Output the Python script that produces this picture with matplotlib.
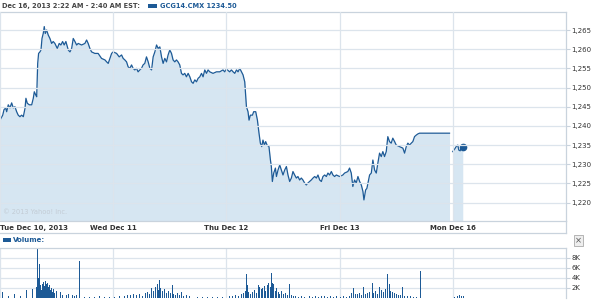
import matplotlib
matplotlib.use("Agg")
import matplotlib.pyplot as plt
from matplotlib.patches import Rectangle
from matplotlib.lines import Line2D
from matplotlib.ticker import FuncFormatter

# time axis: trading sessions since Tue Dec 10 open (1.0 = one session)
day_labels = ["Tue Dec 10, 2013", "Wed Dec 11", "Thu Dec 12", "Fri Dec 13", "Mon Dec 16"]

# Tue -> Fri session prices
t_main = [0.000, 0.009, 0.024, 0.035, 0.050, 0.059, 0.073, 0.088, 0.103, 0.117,
          0.132, 0.147, 0.161, 0.176, 0.191, 0.206, 0.221, 0.229, 0.241, 0.259,
          0.280, 0.294, 0.303, 0.315, 0.324, 0.333, 0.341, 0.353, 0.362, 0.371,
          0.382, 0.391, 0.400, 0.412, 0.426, 0.441, 0.456, 0.470, 0.485, 0.506,
          0.523, 0.538, 0.553, 0.567, 0.582, 0.603, 0.618, 0.633, 0.647, 0.662,
          0.677, 0.691, 0.721, 0.750, 0.765, 0.779, 0.794, 0.809, 0.838, 0.867,
          0.897, 0.927, 0.942, 0.956, 0.971, 0.986, 1.000, 1.030, 1.053, 1.074,
          1.088, 1.103, 1.118, 1.132, 1.147, 1.162, 1.176, 1.191, 1.206, 1.220,
          1.235, 1.250, 1.264, 1.279, 1.294, 1.309, 1.324, 1.339, 1.353, 1.368,
          1.383, 1.397, 1.412, 1.427, 1.441, 1.456, 1.471, 1.485, 1.500, 1.515,
          1.529, 1.544, 1.559, 1.573, 1.588, 1.603, 1.617, 1.632, 1.647, 1.662,
          1.677, 1.692, 1.706, 1.721, 1.736, 1.750, 1.765, 1.780, 1.794, 1.809,
          1.824, 1.838, 1.853, 1.882, 1.912, 1.941, 1.970, 1.985, 2.000, 2.029,
          2.044, 2.059, 2.074, 2.089, 2.103, 2.118, 2.133, 2.147, 2.162, 2.177,
          2.191, 2.200, 2.212, 2.230, 2.241, 2.259, 2.274, 2.288, 2.300, 2.312,
          2.323, 2.336, 2.347, 2.359, 2.376, 2.389, 2.397, 2.406, 2.418, 2.433,
          2.442, 2.456, 2.471, 2.486, 2.500, 2.515, 2.530, 2.544, 2.559, 2.574,
          2.588, 2.603, 2.618, 2.632, 2.647, 2.662, 2.676, 2.691, 2.706, 2.720,
          2.735, 2.750, 2.765, 2.780, 2.795, 2.809, 2.824, 2.839, 2.853, 2.868,
          2.883, 2.897, 2.912, 2.927, 2.941, 2.956, 2.971, 3.000, 3.029, 3.044,
          3.073, 3.088, 3.103, 3.117, 3.132, 3.147, 3.162, 3.177, 3.192, 3.206,
          3.215, 3.230, 3.241, 3.253, 3.265, 3.280, 3.294, 3.309, 3.324, 3.338,
          3.353, 3.368, 3.382, 3.397, 3.412, 3.426, 3.441, 3.456, 3.470, 3.486,
          3.500, 3.530, 3.559, 3.574, 3.589, 3.603, 3.618, 3.633, 3.647, 3.662,
          3.677, 3.691, 3.706, 3.971]
p_main = [1241.5, 1242.0, 1242.8, 1244.2, 1244.7, 1243.7, 1245.5, 1244.7, 1246.0, 1244.7,
          1245.0, 1243.7, 1242.8, 1242.4, 1242.8, 1242.4, 1244.6, 1247.2, 1245.9, 1245.5,
          1245.5, 1247.2, 1248.9, 1248.1, 1247.6, 1256.3, 1258.9, 1259.3, 1259.8, 1262.8,
          1264.1, 1265.9, 1264.1, 1265.0, 1263.7, 1262.8, 1261.5, 1262.0, 1261.5, 1260.2,
          1261.5, 1261.1, 1262.0, 1261.1, 1262.0, 1259.8, 1259.3, 1260.2, 1262.8, 1262.0,
          1261.1, 1261.5, 1261.1, 1261.5, 1262.4, 1261.5, 1260.2, 1259.3, 1258.9, 1258.9,
          1257.6, 1257.2, 1256.7, 1256.3, 1257.6, 1258.9, 1259.3, 1258.9, 1258.0, 1258.5,
          1257.6, 1257.2, 1256.7, 1255.4, 1255.0, 1255.9, 1255.0, 1254.6, 1255.0, 1254.1,
          1254.6, 1255.0, 1255.9, 1256.3, 1258.0, 1256.7, 1255.0, 1254.6, 1258.0, 1259.3,
          1261.1, 1260.2, 1260.6, 1258.0, 1256.3, 1257.6, 1256.7, 1258.5, 1259.8, 1258.9,
          1257.2, 1256.7, 1257.2, 1256.7, 1255.9, 1253.7, 1253.3, 1253.7, 1252.8, 1253.7,
          1252.8, 1251.5, 1251.1, 1252.0, 1251.5, 1252.4, 1252.8, 1253.7, 1252.8, 1254.6,
          1253.7, 1254.6, 1254.1, 1253.7, 1254.1, 1254.1, 1254.6, 1254.1, 1254.8, 1254.1,
          1254.6, 1254.1, 1253.7, 1254.6, 1254.1, 1255.0, 1254.1, 1253.3, 1251.5, 1245.0,
          1243.7, 1241.5, 1242.8, 1242.8, 1243.7, 1243.7, 1241.5, 1238.1, 1235.5, 1234.6,
          1236.3, 1235.0, 1235.9, 1235.0, 1234.6, 1231.1, 1229.4, 1225.5, 1227.7, 1229.0,
          1226.8, 1228.5, 1229.8, 1228.5, 1227.2, 1228.5, 1229.4, 1227.2, 1225.5, 1226.4,
          1228.1, 1227.2, 1226.4, 1226.8, 1225.9, 1226.4, 1225.9, 1225.1, 1224.6, 1225.1,
          1225.5, 1225.9, 1226.4, 1226.8, 1226.4, 1227.2, 1225.9, 1225.5, 1226.8, 1227.2,
          1226.8, 1227.7, 1227.2, 1228.1, 1227.2, 1226.8, 1227.2, 1226.8, 1227.2, 1227.7,
          1228.1, 1229.0, 1227.7, 1224.2, 1225.9, 1225.1, 1226.8, 1225.5, 1224.6, 1222.9,
          1220.7, 1223.3, 1223.7, 1225.5, 1227.2, 1227.7, 1231.1, 1228.5, 1227.7, 1230.3,
          1232.9, 1232.0, 1233.3, 1232.0, 1233.3, 1237.2, 1235.9, 1235.5, 1236.8, 1235.9,
          1235.0, 1234.6, 1234.2, 1232.9, 1234.6, 1235.5, 1235.0, 1235.5, 1235.9, 1237.2,
          1237.6, 1237.9, 1238.1, 1238.1]

# Monday session
t_mon = [3.999, 4.015, 4.030, 4.044, 4.053, 4.065, 4.077, 4.088]
p_mon = [1233.3, 1233.9, 1234.6, 1235.0, 1233.7, 1233.5, 1234.6, 1234.5]

# volume (thousands of contracts)
t_vol = [0.009, 0.026, 0.044, 0.062, 0.079, 0.097, 0.115, 0.132, 0.150, 0.168,
         0.185, 0.203, 0.221, 0.238, 0.256, 0.274, 0.291, 0.309, 0.320, 0.329,
         0.338, 0.347, 0.356, 0.364, 0.373, 0.382, 0.391, 0.400, 0.409, 0.417,
         0.426, 0.435, 0.444, 0.453, 0.461, 0.470, 0.485, 0.503, 0.521, 0.538,
         0.556, 0.574, 0.591, 0.609, 0.627, 0.644, 0.662, 0.679, 0.706, 0.750,
         0.794, 0.838, 0.882, 0.927, 0.971,
         1.015, 1.059, 1.103, 1.129, 1.156, 1.182, 1.209, 1.235, 1.262, 1.288,
         1.306, 1.324, 1.341, 1.359, 1.377, 1.394, 1.403, 1.412, 1.421, 1.438,
         1.456, 1.474, 1.491, 1.509, 1.520, 1.535, 1.553, 1.571, 1.588, 1.606,
         1.624, 1.650, 1.677, 1.714, 1.747, 1.791, 1.835, 1.880, 1.924, 1.968,
         2.030, 2.056, 2.082, 2.109, 2.135, 2.153, 2.166, 2.177, 2.186, 2.197,
         2.215, 2.232, 2.250, 2.268, 2.281, 2.294, 2.307, 2.321, 2.334, 2.347,
         2.360, 2.374, 2.387, 2.397, 2.407, 2.418, 2.431, 2.444, 2.458, 2.471,
         2.488, 2.506, 2.524, 2.541, 2.559, 2.577, 2.594, 2.612, 2.638, 2.665,
         2.691, 2.712, 2.735, 2.762, 2.788, 2.815, 2.841, 2.868, 2.894, 2.921,
         2.947, 2.974,
         3.009, 3.035, 3.062, 3.088, 3.106, 3.124, 3.141, 3.159, 3.177, 3.194,
         3.212, 3.230, 3.247, 3.265, 3.289, 3.300, 3.318, 3.335, 3.353, 3.371,
         3.388, 3.406, 3.426, 3.437, 3.450, 3.468, 3.486, 3.503, 3.521, 3.538,
         3.553, 3.574, 3.600, 3.627, 3.653, 3.680, 3.712,
         4.015, 4.041, 4.059, 4.077, 4.094]
v_vol = [0.6, 1.2, 0.5, 0.8, 0.4, 0.9, 0.5, 0.7, 0.4, 0.6,
         0.3, 0.5, 0.8, 1.6, 0.6, 0.9, 1.8, 1.1, 2.2, 9.9,
         4.0, 6.7, 2.5, 1.6, 2.8, 3.1, 2.4, 3.3, 2.7, 3.0,
         2.2, 2.6, 1.5, 2.0, 1.2, 1.8, 1.0, 1.4, 0.8, 1.1,
         0.6, 0.9, 0.5, 0.8, 1.3, 0.6, 0.4, 0.5, 7.3, 0.2,
         0.1, 0.2, 0.3, 0.2, 0.2,
         0.2, 0.3, 0.4, 0.6, 0.5, 0.8, 0.5, 0.7, 0.4, 0.9,
         1.2, 0.8, 2.0, 1.3, 2.1, 2.8, 1.6, 3.6, 2.0, 1.3,
         1.8, 1.0, 1.4, 0.9, 2.5, 0.8, 0.6, 0.9, 0.5, 1.1,
         0.4, 0.5, 0.3, 8.4, 0.2, 0.1, 0.2, 0.1, 0.2, 0.2,
         0.3, 0.4, 0.5, 0.4, 0.8, 1.0, 1.4, 4.7, 2.5, 1.2,
         0.8, 1.1, 1.6, 0.9, 2.6, 2.1, 1.7, 1.9, 2.4, 1.4,
         2.6, 3.0, 2.2, 5.0, 2.9, 2.7, 1.4, 2.0, 1.1, 0.8,
         1.3, 0.7, 1.0, 0.6, 2.7, 0.6, 0.4, 0.3, 0.2, 0.3,
         0.2, 5.1, 0.3, 0.2, 0.4, 0.2, 0.3, 0.4, 0.2, 0.3,
         0.2, 0.3,
         0.2, 0.3, 0.2, 0.4, 0.9, 2.0, 0.8, 0.7, 0.9, 0.6,
         2.1, 0.8, 0.9, 1.2, 2.9, 1.0, 1.3, 0.8, 2.1, 1.5,
         1.2, 1.7, 4.7, 2.7, 1.4, 1.2, 0.9, 0.8, 0.6, 0.5,
         2.1, 0.4, 0.3, 0.3, 0.2, 0.2, 5.4,
         0.2, 0.4, 0.5, 0.4, 0.3]

price_ticks = [1220, 1225, 1230, 1235, 1240, 1245, 1250, 1255, 1260, 1265]
vol_ticks = [2, 4, 6, 8]

LINE = "#1d5a96"
FILL = "#d6e6f2"
GRID = "#dce4ec"
EDGE = "#c9d3dd"
TEXT = "#333333"

W, H = 600, 302
fig = plt.figure(figsize=(6.0, 3.02), dpi=100)


def fx(px):
    return px / W


def fy(py):
    return 1 - py / H


# price panel
ax = fig.add_axes([0, fy(221), fx(566), (221 - 12) / H])
ax.fill_between(t_main, p_main, 1200, color=FILL, lw=0)
ax.fill_between(t_mon, p_mon, 1200, color=FILL, lw=0)
ax.plot(t_main, p_main, color=LINE, lw=0.9)
ax.plot(t_mon, p_mon, color=LINE, lw=0.9)
ax.plot(t_mon[-1], p_mon[-1], "o", color=LINE, ms=4.5)
ax.set_xlim(0, 5.0)
ax.set_ylim(1215.2, 1269.7)
ax.set_yticks(price_ticks)
ax.yaxis.set_major_formatter(FuncFormatter(lambda v, _: f"{v:,.0f}"))
ax.yaxis.tick_right()
ax.set_xticks(range(len(day_labels)))
ax.set_xticklabels(day_labels)
ax.get_xticklabels()[0].set_horizontalalignment("left")
ax.tick_params(axis="y", length=3, color=EDGE, labelsize=5, labelcolor=TEXT, pad=1)
ax.tick_params(axis="x", length=0, labelsize=5, labelcolor=TEXT, pad=3)
for lab in ax.get_xticklabels():
    lab.set_fontweight("bold")
ax.grid(True, color=GRID, lw=0.9)
ax.set_axisbelow(False)
ax.spines["left"].set_visible(False)
for side in ["top", "bottom", "right"]:
    ax.spines[side].set_color(EDGE)
    ax.spines[side].set_linewidth(0.9)
ax.text(0.005, 0.03, "\u00a9 2013 Yahoo! Inc.", transform=ax.transAxes,
        fontsize=4.8, color="#c3ccd5", va="bottom", ha="left")

# volume panel
axv = fig.add_axes([0, fy(297.7), fx(566), 50 / H])
axv.bar(t_vol, v_vol, width=0.008, color=LINE, lw=0)
axv.set_xlim(0, 5.0)
axv.set_ylim(0, 10)
axv.set_yticks(vol_ticks)
axv.set_yticklabels([f"{v}K" for v in vol_ticks])
axv.yaxis.tick_right()
axv.set_xticks(range(len(day_labels)))
axv.set_xticklabels([])
axv.tick_params(axis="y", length=3, color=EDGE, labelsize=5, labelcolor=TEXT, pad=1)
axv.tick_params(axis="x", length=0)
axv.grid(True, color=GRID, lw=0.9)
axv.set_axisbelow(True)
axv.spines["left"].set_visible(False)
axv.spines["bottom"].set_visible(False)
for side in ["top", "right"]:
    axv.spines[side].set_color(EDGE)
    axv.spines[side].set_linewidth(0.9)

# frame lines around the date band
fig.add_artist(Line2D([0, fx(566)], [fy(233), fy(233)], color=EDGE, lw=0.9))
fig.add_artist(Line2D([fx(566), fx(566)], [fy(221), fy(233)], color=EDGE, lw=0.9))

# header
fig.text(fx(2), fy(6), "Dec 16, 2013 2:22 AM - 2:40 AM EST:", fontsize=4.8,
         fontweight="bold", color="#444444", va="center", ha="left")
fig.add_artist(Rectangle((fx(148), fy(8)), fx(9), 4 / H, color=LINE, lw=0))
fig.text(fx(160), fy(6), "GCG14.CMX 1234.50", fontsize=4.8, fontweight="bold",
         color=LINE, va="center", ha="left")

# volume legend
fig.add_artist(Rectangle((fx(3), fy(242)), fx(8), 4 / H, color=LINE, lw=0))
fig.text(fx(13), fy(240), "Volume:", fontsize=5, fontweight="bold",
         color=LINE, va="center", ha="left")

# close box
fig.text(fx(578.5), fy(240.5), "\u00d7", fontsize=6, color="#555555", va="center",
         ha="center", bbox=dict(boxstyle="square,pad=0.15", fc="#eeeeee", ec="#aaaaaa", lw=0.6))

fig.savefig("out.png", dpi=100)
